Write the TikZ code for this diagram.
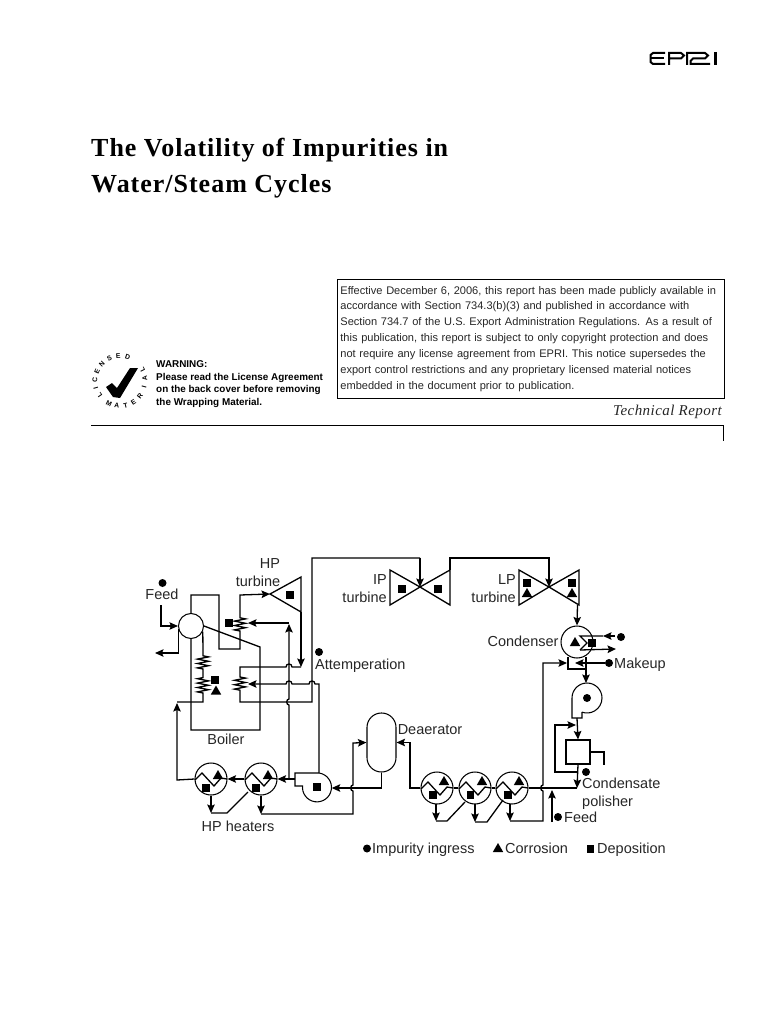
\documentclass[tikz,border=0pt]{standalone}
\usepackage{fontspec}
\setmainfont{Liberation Sans}
\newfontfamily\titlefont[LetterSpace=3.8]{Liberation Serif Bold}
\newfontfamily\reportfont[LetterSpace=3]{Liberation Serif Italic}
\usetikzlibrary{arrows.meta,calc,shapes.geometric,decorations.pathmorphing}
\tikzset{
	>={Stealth[length=8.5pt,width=7.5pt,inset=1.5pt]},
	pipe/.style={line width=1.3pt},
	shell/.style={line width=1.05pt},
	lbl/.style={inner sep=0pt,text height=10.5pt,text depth=0pt,font=\fontsize{14.5}{18}\selectfont,text=black!85},
	titleline/.style={anchor=base west,inner sep=0pt,font=\titlefont\fontsize{26}{36}\selectfont},
	sealtext/.style={inner sep=0pt,font=\bfseries\fontsize{6.8}{8}\selectfont},
	logo/.style={line width=2pt},
	vessel/.style={circle,draw,shell,minimum size=32pt,inner sep=0pt},
	sqmark/.style={rectangle,fill=black,minimum size=7.5pt,inner sep=0pt},
	trimark/.style={regular polygon,regular polygon sides=3,fill=black,minimum size=12pt,inner sep=0pt},
	dotmark/.style={circle,fill=black,minimum size=8pt,inner sep=0pt},
	coil/.style={decoration={zigzag,segment length=4.4pt,amplitude=5.5pt}},
	hxzig/.pic={\draw[pipe] (-16,1) -- (-9,-6) -- (3,7) -- (10,-1) -- (16,0);}
}

\begin{document}
\begin{tikzpicture}[x=1pt,y=-1pt]
	\useasboundingbox (0,0) rectangle (768,1024);

	% Title block
	\node[titleline] (title) at (91,157) {The Volatility of Impurities in};
	\node[titleline] (titleb) at (91,193) {Water/Steam Cycles};

	% EPRI mark
	\draw[logo] (665,53) -- (653,53) -- (650.5,55) -- (650.5,62) -- (653,64) -- (665,64);
	\draw[logo] (651,58.5) -- (664,58.5);
	\draw[logo] (669,65) -- (669,53) -- (681,53) -- (684,55.5) -- (681,58.5) -- (670,58.5);
	\draw[logo] (687,65) -- (687,53) -- (705,53) -- (708,55.5) -- (705,58.5) -- (693,58.5) -- (690.5,61) -- (690.5,64) -- (710,64);
	\draw[line width=3pt] (715.5,52) -- (715.5,65);

	% Notice box
	\node[draw,line width=0.8pt,anchor=north west,minimum width=387pt,minimum height=119pt,inner sep=3pt,text width=381pt,align=left,font=\fontsize{11.05}{15.9}\selectfont,text=black!85] (notice) at (337,279) {Effective December 6, 2006, this report has been made publicly available in\\accordance with Section 734.3(b)(3) and published in accordance with\\Section 734.7 of the U.S. Export Administration Regulations. As a result of\\this publication, this report is subject to only copyright protection and does\\not require any license agreement from EPRI. This notice supersedes the\\export control restrictions and any proprietary licensed material notices\\embedded in the document prior to publication.};
	\node[anchor=base east,inner sep=0pt,font=\reportfont\fontsize{15}{18}\selectfont,text=black!85] (report) at (722,415) {Technical Report};

	% Warning and seal
	\node[anchor=north west,inner sep=0pt,align=left,font=\bfseries\fontsize{9.9}{12.6}\selectfont] (warning) at (156,360.5) {WARNING:\\Please read the License Agreement\\on the back cover before removing\\the Wrapping Material.};
	\coordinate (seal) at (120,381);
	\fill (106,387) -- (112,383) -- (117,388) -- (130,368) -- (138,368) -- (120,398) -- (113,397) -- cycle;
	\foreach \a/\c in {215/L,196/I,177/C,157/E,136/N,115/S,94/E,72/D}
		\node[sealtext,rotate=\a-90] at ($(seal)+(\a:25pt)$) {\c};
	\foreach \a/\c in {244/M,263/A,283/T,303/E,323/R,345/I,6/A,27/L}
		\node[sealtext,rotate=\a+90] at ($(seal)+(\a:25pt)$) {\c};

	% Rule under the header
	\coordinate (ruleL) at (91,425);
	\coordinate (ruleC) at (723,425);
	\coordinate (ruleE) at (723,441);
	\draw[line width=0.9pt] (ruleL) -- (ruleC) -- (ruleE);

	% Boiler: drum, casing and coils
	\node[vessel,minimum size=25pt] (drum) at (191,626) {};
	\coordinate (boilerSW) at (191,730);
	\coordinate (boilerSE) at (260,730);
	\coordinate (boilerNE) at (260,647);
	\draw[pipe] (drum.south) -- (boilerSW) -- (boilerSE) -- (boilerNE) -- (drum.east);
	\node[lbl] (boiler) at (226,739) {Boiler};

	% Feed into the drum and blowdown out of it
	\node[dotmark] (feeddot) at (162.5,583) {};
	\node[lbl] (feed) at (162,594.5) {Feed};
	\coordinate (feedin) at (161,605);
	\draw[pipe,->] (feedin) |- (drum.west);
	\coordinate (blowdown) at (155,653);
	\draw[pipe,->] (drum.195) |- (blowdown);

	% HP turbine
	\coordinate (hpA) at (270,594);
	\coordinate (hpB) at (301,577);
	\coordinate (hpC) at (301,612);
	\draw[pipe] (hpA) -- (hpB) -- (hpC) -- cycle;
	\node[sqmark] (hpsq) at (290,595) {};
	\node[lbl] (hplabel) at (270,563.5) {HP};
	\node[lbl] (hplabelb) at (258,581) {turbine};

	% Superheater loop from drum to HP turbine
	\draw[pipe,->] (drum.north) -- (191,595) -- (219,595) -- (219,649) -- (240,649) -- (240,631) decorate[coil] {-- (240,617)} -- (240,595) -- (hpA);
	\node[sqmark] (shsq) at (229,623) {};

	% Reheater, riser and attemperation
	\draw[pipe,->] (hpC) -- (301,667);
	\draw[pipe] (301,667) -- (292,667) .. controls (292,663) and (286,663) .. (286,667) -- (240,667) -- (240,677) decorate[coil] {-- (240,691)} -- (240,702) -- (312,702) -- (312,558) -- (420,558);
	\draw[pipe,->] (319,773) -- (319,684) -- (315,684) .. controls (315,680) and (309,680) .. (309,684) -- (292,684) .. controls (292,680) and (286,680) .. (286,684) -- (248,684);
	\draw[pipe,->] (289,779) -- (289,705) .. controls (286,705) and (286,699) .. (289,699) -- (289,624);
	\draw[pipe,->] (289,623) -- (248,623);
	\node[dotmark] (attdot) at (319,652) {};
	\node[lbl,anchor=west] (att) at (315,664) {Attemperation};

	% HP heaters
	\node[vessel] (heaterA) at (211,779) {};
	\node[vessel] (heaterB) at (261,779) {};
	\pic at (heaterA) {hxzig};
	\pic at (heaterB) {hxzig};
	\node[trimark] (hAtri) at (218,776) {};
	\node[trimark] (hBtri) at (268,776) {};
	\node[sqmark] (hAsq) at (206,788) {};
	\node[sqmark] (hBsq) at (256,788) {};
	\draw[pipe,->] (heaterB.west) -- (heaterA.east);
	\draw[pipe,->] (heaterA.south) -- (211,813);
	\draw[pipe] (211,813) -- (227,813) -- (248,792);
	\draw[pipe,->] (heaterB.south) -- (261,814);
	\node[lbl] (hplabelc) at (238,826) {HP heaters};

	% Evaporator coils and return from the heaters
	\draw[pipe,->] (heaterA.west) -- (177,780) -- (177,703);
	\draw[pipe] (177,702) -- (203,702) -- (203,693) decorate[coil] {-- (203,677)} -- (203,669) decorate[coil] {-- (203,655)} -- (drum.-25);
	\node[sqmark] (evsq) at (215,680) {};
	\node[trimark] (evtri) at (216,691.5) {};

	% Feed pump
	\node[circle,minimum size=29pt,inner sep=0pt] (pumpA) at (317,788) {};
	\draw[shell] (303,786) -- (295,786) -- (295,773) -- (319,773) arc[start angle=278,end angle=548,radius=14.5];
	\node[sqmark] (pAsq) at (317,787) {};
	\draw[pipe,->] (295,779) -- (heaterB.east);

	% Deaerator
	\node[draw,shell,rectangle,rounded corners=14.4pt,minimum width=29pt,minimum height=59pt,inner sep=0pt] (deaer) at (381.5,742.5) {};
	\node[lbl] (deaerlabel) at (430,729.5) {Deaerator};
	\draw[pipe,->] (deaer.south) |- (pumpA.east);

	% Drain to the deaerator
	\draw[pipe,->] (261,814) -- (353,814) -- (353,791) .. controls (350,791) and (350,785) .. (353,785) -- (353,743) -- (deaer.west);

	% LP heaters
	\node[vessel] (heaterC) at (437,788) {};
	\node[vessel] (heaterD) at (475,788) {};
	\node[vessel] (heaterE) at (512,788) {};
	\pic at (heaterC) {hxzig};
	\pic at (heaterD) {hxzig};
	\pic at (heaterE) {hxzig};
	\node[trimark] (hCtri) at (444,782) {};
	\node[trimark] (hDtri) at (482,782) {};
	\node[trimark] (hEtri) at (519,782) {};
	\node[sqmark] (hCsq) at (433,795) {};
	\node[sqmark] (hDsq) at (470.5,795) {};
	\node[sqmark] (hEsq) at (508,795) {};
	\draw[pipe] (heaterD.west) -- (heaterC.east);
	\draw[pipe] (heaterE.west) -- (heaterD.east);
	\draw[pipe,->] (heaterC.west) -- (410,788) |- (deaer.east);
	\draw[pipe,->] (436,804) -- (436,821);
	\draw[pipe] (436,821) -- (447,821) -- (465,802);
	\draw[pipe,->] (475,804) -- (475,822);
	\draw[pipe] (475,822) -- (487,822) -- (503,800);
	\draw[pipe,->] (510,804) -- (510,821);

	% Drain back to the hotwell
	\draw[pipe,->] (510,821) -- (543,821) -- (543,791) .. controls (540,791) and (540,785) .. (543,785) -- (543,663) -- (567,663);

	% Condenser and hotwell
	\node[vessel] (cond) at (577,642) {};
	\node[lbl] (condlabel) at (523,641) {Condenser};
	\draw[pipe] (568,657) -- (568,669) -- (586,669) -- (586,657);
	\node[trimark] (condtri) at (575,643) {};
	\node[sqmark] (condsq) at (592,643) {};
	\node[dotmark] (conddot) at (621,637) {};
	\draw[pipe,->] (615,636) -- (603,636);
	\draw[pipe] (603,636) -- (580,636) -- (587,643) -- (580,650);
	\draw[pipe,->] (580,650) -- (616,649);

	% Makeup
	\node[dotmark] (mkdot) at (609,663) {};
	\node[lbl,anchor=west] (mklabel) at (614,663.5) {Makeup};
	\draw[pipe,->] (mkdot) -- (575,663);

	% Condensate pump
	\draw[pipe,->] (586,669) -- (586,683);
	\node[circle,minimum size=30pt,inner sep=0pt] (pumpB) at (587,698) {};
	\draw[shell] (582,712) -- (582,718) -- (572,718) -- (572,698) arc[start angle=180,end angle=470,radius=15];
	\node[dotmark] (pBdot) at (587,698) {};

	% Condensate polisher with bypass
	\node[draw,shell,minimum size=24pt,inner sep=0pt] (polisher) at (578,752) {};
	\draw[pipe,->] (577,718) -- (polisher.north);
	\draw[pipe,->] (577,772) -| (555,725) -- (576,725);
	\draw[pipe] (polisher.east) -- (604,752) -- (604,765);
	\draw[pipe,->] (polisher.south) -- (577,788);
	\draw[pipe] (577,788) -- (heaterE.east);
	\node[dotmark] (poldot) at (586,772) {};
	\node[lbl,anchor=west] (pollabel) at (582,783) {Condensate};
	\node[lbl,anchor=west] (pollabelb) at (582,801) {polisher};

	% Make-up feed
	\coordinate (feedB) at (552,822);
	\coordinate (feedBe) at (552,790);
	\draw[pipe,->] (feedB) -- (feedBe);
	\node[dotmark] (fBdot) at (558,817) {};
	\node[lbl,anchor=west] (fBlabel) at (564,817) {Feed};

	% IP turbine
	\draw[pipe] (390,570) -- (420,587) -- (390,605) -- cycle;
	\draw[pipe] (450,570) -- (420,587) -- (450,605) -- cycle;
	\node[sqmark] (ipsqa) at (402,589) {};
	\node[sqmark] (ipsqb) at (438,589) {};
	\node[lbl,anchor=east] (iplabel) at (387,579) {IP};
	\node[lbl,anchor=east] (iplabelb) at (387,597) {turbine};
	\draw[pipe,->] (420,558) -- (420,587);

	% LP turbine
	\draw[pipe] (519,570) -- (549,587) -- (519,605) -- cycle;
	\draw[pipe] (579,570) -- (549,587) -- (579,605) -- cycle;
	\node[sqmark] (lpsqa) at (527,583) {};
	\node[sqmark] (lpsqb) at (572,583) {};
	\node[trimark] (lptria) at (527,594) {};
	\node[trimark] (lptrib) at (572,594) {};
	\node[lbl,anchor=east] (lplabel) at (516,579) {LP};
	\node[lbl,anchor=east] (lplabelb) at (516,597) {turbine};
	\draw[pipe,->] (450,570) -- (450,558) -- (549,558) -- (549,587);
	\draw[pipe,->] (577.5,605) -- (cond.north);

	% Legend
	\node[dotmark] (lgdot) at (367,848.5) {};
	\node[lbl,anchor=west] (lgone) at (372,848.5) {Impurity ingress};
	\node[trimark] (lgtri) at (498,849) {};
	\node[lbl,anchor=west] (lgtwo) at (505,848.5) {Corrosion};
	\node[sqmark] (lgsq) at (590.5,849) {};
	\node[lbl,anchor=west] (lgthree) at (597,848.5) {Deposition};
\end{tikzpicture}
\end{document}
